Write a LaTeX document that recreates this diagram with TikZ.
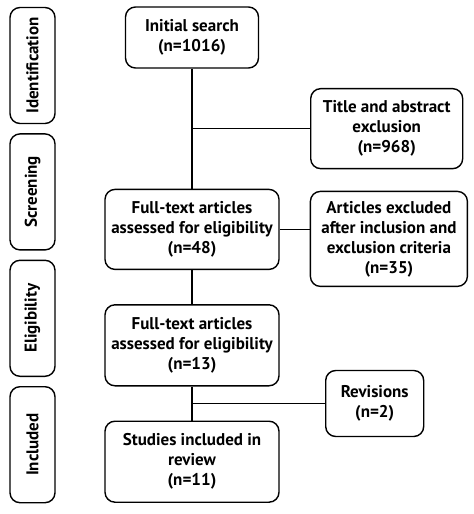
\documentclass[tikz,border=0pt]{standalone}
\usepackage{fontspec}
\setmainfont{PT Sans}
\usepackage{tikz}
\usetikzlibrary{positioning,calc}

\begin{document}
\begin{tikzpicture}[font=\bfseries\fontsize{8.5}{10}\selectfont,
box/.style={draw,rounded corners=5pt,line width=0.7pt,align=center,inner sep=2pt},
phase/.style={draw,rounded corners=5pt,line width=0.7pt,minimum width=22.5pt,minimum height=58pt,inner sep=0pt},
link/.style={line width=0.7pt}]
\useasboundingbox (0,0) rectangle (237pt,-257pt);

% nodes
\node[box,minimum width=66.5pt,minimum height=30.5pt](init) at (96pt,-18.75pt){Initial search\\(n=1016)};
\node[box,below=60pt of init,minimum width=87pt,minimum height=40pt](full48){Full-text articles\\assessed for eligibility\\(n=48)};
\node[box,below=17pt of full48,minimum width=87pt,minimum height=40.5pt](full13){Full-text articles\\assessed for eligibility\\(n=13)};
\node[box,below=17pt of full13,minimum width=87pt,minimum height=40.5pt](studies){Studies included in\\review\\(n=11)};

\node[box,right=59pt of $(init)!0.5!(full48)$,yshift=2.4pt,minimum width=76pt,minimum height=40pt](title){Title and abstract\\exclusion\\(n=968)};
\node[box,right=15pt of full48,yshift=-4.75pt,minimum width=78.5pt,minimum height=47.5pt](excl){Articles excluded\\after inclusion and\\exclusion criteria\\(n=35)};
\node[box,right=66.5pt of $(full13.south)!0.5!(studies.north)$,minimum width=49pt,minimum height=33pt](rev){Revisions\\(n=2)};

% phases
\node[phase](ident) at (16.25pt,-32.75pt){\rotatebox{90}{Identification}};
\node[phase,below=4.5pt of ident](screen){\rotatebox{90}{Screening}};
\node[phase,below=4.5pt of screen](elig){\rotatebox{90}{Eligibility}};
\node[phase,below=4.5pt of elig](incl){\rotatebox{90}{Included}};

% lines
\draw[link] (init) -- (full48);
\draw[link] (init.south |- title.west) -- (title);
\draw[link] (full48.east) -- (full48.east -| excl.west);
\draw[link] (full48) -- (full13);
\draw[link] (full13) -- (studies);
\draw[link] (full13.south |- rev.west) -- (rev);
\end{tikzpicture}
\end{document}
